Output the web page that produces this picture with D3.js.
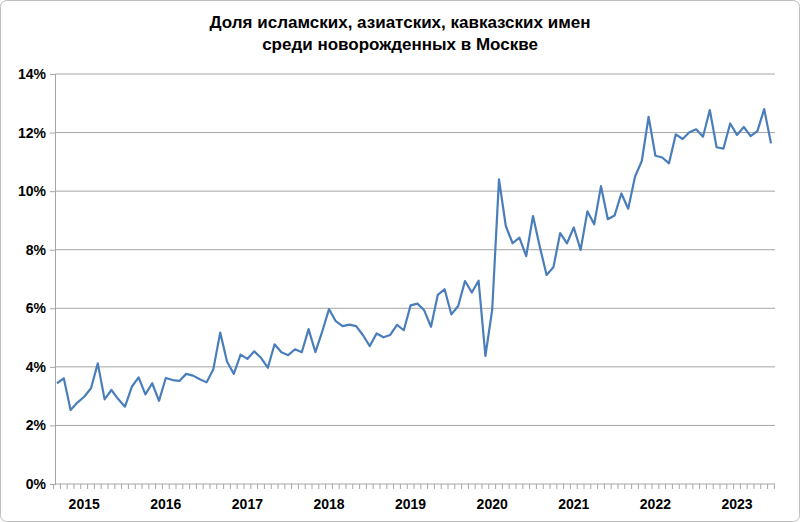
<!DOCTYPE html>
<html><head><meta charset="utf-8">
<script src="https://cdn.jsdelivr.net/npm/d3@7"></script>
<style>body{margin:0;background:#fff}svg{display:block}</style>
</head><body>
<svg id="c" width="800" height="522"></svg>
<script>
const startYear = 2014, startMonth = 8; // Sep 2014 (0-based month)
const values = [3.44,3.61,2.53,2.78,2.98,3.27,4.12,2.89,3.21,2.90,2.64,3.32,3.64,3.06,3.44,2.84,3.62,3.55,3.52,3.76,3.70,3.58,3.47,3.93,5.17,4.18,3.76,4.42,4.27,4.53,4.31,3.97,4.77,4.50,4.40,4.60,
4.50,5.29,4.50,5.20,5.97,5.56,5.39,5.44,5.39,5.08,4.71,5.14,5.01,5.09,5.43,5.25,6.10,6.16,5.93,5.37,6.46,6.65,5.79,6.08,6.93,6.54,6.94,4.37,5.95,10.40,8.81,8.22,8.41,7.78,9.15,
8.10,7.14,7.40,8.57,8.22,8.76,7.99,9.31,8.87,10.17,9.04,9.17,9.92,9.40,10.49,11.03,12.54,11.21,11.15,10.95,11.94,11.78,12.01,12.11,11.86,12.77,11.50,11.45,12.31,11.92,12.19,11.88,12.05,12.80,11.63];
const yTicks = [0,2,4,6,8,10,12,14];
const yearLabels = [2015,2016,2017,2018,2019,2020,2021,2022,2023];
const title = ["Доля исламских, азиатских, кавказских имен","среди новорожденных в Москве"];

const svg = d3.select("#c");
svg.append("rect").attr("x",0.5).attr("y",0.5).attr("width",799).attr("height",521).attr("rx",6)
  .attr("fill","#fff").attr("stroke","#bfbfbf");
const L=55,R=775,T=74,B=484;
const n=values.length;
const x=d3.scaleLinear().domain([0,n-1]).range([57,771]);
const y=d3.scaleLinear().domain([0,14]).range([B,T]);
const step=(x(1)-x(0));
// grid
svg.append("g").selectAll("line").data(yTicks.filter(d=>d>0)).join("line")
  .attr("x1",L).attr("x2",R).attr("y1",d=>y(d)).attr("y2",d=>y(d))
  .attr("stroke","#a6a6a6").attr("stroke-width",1);
// y axis
const ya=svg.append("g").attr("transform",`translate(${L},0)`)
  .call(d3.axisLeft(y).tickValues(yTicks).tickFormat(d=>d+"%").tickSize(5).tickPadding(4));
ya.select(".domain").attr("stroke","#a6a6a6");
ya.selectAll(".tick line").attr("stroke","#a6a6a6");
ya.selectAll("text").attr("font-family","Liberation Sans, Arial, sans-serif").attr("font-weight","bold").attr("font-size",14).attr("fill","#000");
// x axis with monthly ticks
const xt=d3.range(0,n+1).map(i=>x(0)-step/2+i*step).filter(v=>v<=R+1);
svg.append("line").attr("x1",L).attr("x2",R).attr("y1",B).attr("y2",B).attr("stroke","#a6a6a6");
svg.append("g").selectAll("line").data(xt).join("line")
  .attr("x1",d=>d).attr("x2",d=>d).attr("y1",B).attr("y2",B+5).attr("stroke","#a6a6a6");
svg.append("g").selectAll("text").data(yearLabels).join("text")
  .attr("x",d=>x((d-startYear)*12-startMonth)).attr("y",509).attr("text-anchor","middle")
  .attr("font-family","Liberation Sans, Arial, sans-serif").attr("font-weight","bold").attr("font-size",14).text(d=>d);
// line
svg.append("path").datum(values).attr("fill","none").attr("stroke","#4a7ebb").attr("stroke-width",2.2)
  .attr("stroke-linejoin","round")
  .attr("d",d3.line().x((d,i)=>x(i)).y(d=>y(d)));
// title
svg.append("g").selectAll("text").data(title).join("text")
  .attr("x",400).attr("y",(d,i)=>28+i*22).attr("text-anchor","middle")
  .attr("font-family","Liberation Sans, Arial, sans-serif").attr("font-weight","bold").attr("font-size",17).text(d=>d);
</script></body></html>
